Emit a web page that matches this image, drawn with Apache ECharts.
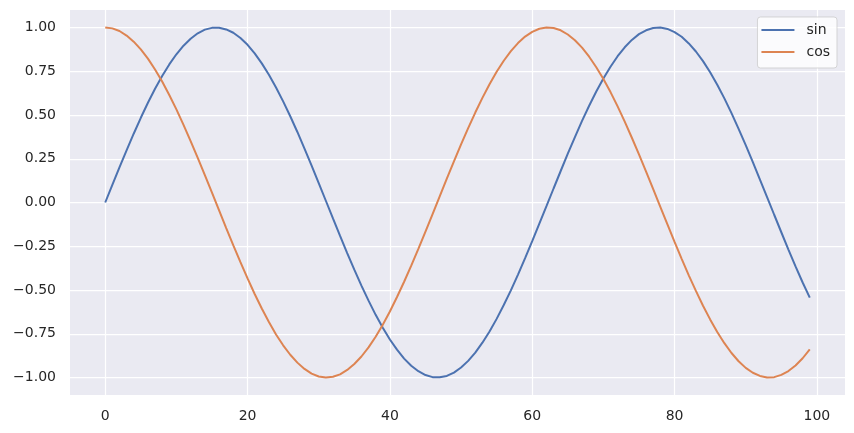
<!DOCTYPE html>
<html>
<head>
<meta charset="utf-8">
<script src="https://cdn.jsdelivr.net/npm/echarts@6/dist/echarts.min.js"></script>
<style>
html,body{margin:0;padding:0;background:#ffffff;}
#chart{width:854px;height:433px;}
</style>
</head>
<body>
<div id="chart"></div>
<script>
const xIndex = [0,1,2,3,4,5,6,7,8,9,10,11,12,13,14,15,16,17,18,19,20,21,22,23,24,25,26,27,28,29,30,31,32,33,34,35,36,37,38,39,40,41,42,43,44,45,46,47,48,49,50,51,52,53,54,55,56,57,58,59,60,61,62,63,64,65,66,67,68,69,70,71,72,73,74,75,76,77,78,79,80,81,82,83,84,85,86,87,88,89,90,91,92,93,94,95,96,97,98,99];

const sinValues = [0.000,0.101,0.201,0.298,0.393,0.484,0.570,0.650,0.723,0.789,0.847,0.896,0.936,0.967,0.988,0.998,0.999,0.989,0.970,0.940,0.901,0.852,0.795,0.730,0.657,0.578,0.493,0.403,0.308,0.211,0.111,0.010,-0.091,-0.191,-0.289,-0.384,-0.475,-0.561,-0.642,-0.716,-0.783,-0.841,-0.892,-0.933,-0.964,-0.986,-0.998,-0.999,-0.991,-0.972,-0.943,-0.905,-0.858,-0.801,-0.737,-0.665,-0.586,-0.502,-0.412,-0.318,-0.221,-0.121,-0.021,0.080,0.180,0.279,0.374,0.466,0.553,0.634,0.709,0.776,0.836,0.887,0.929,0.962,0.984,0.997,1.000,0.992,0.974,0.947,0.909,0.863,0.808,0.744,0.673,0.595,0.511,0.421,0.328,0.231,0.131,0.031,-0.070,-0.170,-0.269,-0.365,-0.457,-0.544];

const cosValues = [1.000,0.995,0.980,0.954,0.919,0.875,0.822,0.760,0.691,0.614,0.532,0.444,0.351,0.255,0.156,0.056,-0.045,-0.146,-0.245,-0.341,-0.434,-0.523,-0.606,-0.683,-0.754,-0.816,-0.870,-0.915,-0.951,-0.978,-0.994,-1.000,-0.996,-0.982,-0.957,-0.923,-0.880,-0.828,-0.767,-0.698,-0.623,-0.540,-0.453,-0.361,-0.265,-0.166,-0.066,0.035,0.136,0.235,0.332,0.425,0.514,0.598,0.676,0.747,0.810,0.865,0.911,0.948,0.975,0.993,1.000,0.997,0.984,0.960,0.927,0.885,0.833,0.773,0.706,0.631,0.549,0.462,0.370,0.275,0.176,0.076,-0.025,-0.125,-0.225,-0.322,-0.416,-0.505,-0.590,-0.668,-0.740,-0.804,-0.860,-0.907,-0.945,-0.973,-0.991,-1.000,-0.998,-0.985,-0.963,-0.931,-0.890,-0.839];

const xTicks = [0, 20, 40, 60, 80, 100];
const yTicks = [-1.00, -0.75, -0.50, -0.25, 0.00, 0.25, 0.50, 0.75, 1.00];
const seriesNames = ['sin', 'cos'];

const sinData = xIndex.map((x, i) => [x, sinValues[i]]);
const cosData = xIndex.map((x, i) => [x, cosValues[i]]);

const FONT = 'DejaVu Sans';
const TXT = '#262626';
const LINE_ICON = 'path://M0,0 L33,0 L33,2 L0,2 Z';

const chart = echarts.init(document.getElementById('chart'), null, {renderer: 'canvas'});
chart.setOption({
  backgroundColor: '#ffffff',
  animation: false,
  grid: {
    left: 70, right: 9, top: 10, bottom: 38,
    show: true, backgroundColor: '#EAEAF2', borderWidth: 0,
    containLabel: false
  },
  legend: {
    data: seriesNames.map(n => ({name: n, icon: LINE_ICON})),
    orient: 'vertical',
    right: 17, top: 17,
    padding: [6, 7, 9, 4],
    itemWidth: 33, itemHeight: 14, itemGap: 8,
    symbolKeepAspect: true,
    backgroundColor: 'rgba(255,255,255,0.8)',
    borderColor: 'rgba(204,204,204,0.8)',
    borderWidth: 1, borderRadius: 3,
    textStyle: {fontFamily: FONT, fontSize: 14, color: TXT, padding: [0, 0, 0, 7]}
  },
  xAxis: {
    type: 'value', min: -4.95, max: 103.95,
    axisLine: {show: false},
    axisTick: {show: false, customValues: xTicks},
    axisLabel: {customValues: xTicks, margin: 14, fontFamily: FONT, fontSize: 14, color: TXT,
      formatter: v => String(Math.round(v))},
    splitLine: {show: true, lineStyle: {color: '#ffffff', width: 1.25}}
  },
  yAxis: {
    type: 'value', min: -1.1, max: 1.1,
    axisLine: {show: false},
    axisTick: {show: false, customValues: yTicks},
    axisLabel: {customValues: yTicks, margin: 14, fontFamily: FONT, fontSize: 14, color: TXT,
      formatter: v => (v < 0 ? '\u2212' : '') + Math.abs(v).toFixed(2)},
    splitLine: {show: true, lineStyle: {color: '#ffffff', width: 1.25}}
  },
  series: [
    {name: seriesNames[0], type: 'line', data: sinData, symbol: 'none', showSymbol: false, smooth: false,
     lineStyle: {color: '#4C72B0', width: 2}, itemStyle: {color: '#4C72B0'}},
    {name: seriesNames[1], type: 'line', data: cosData, symbol: 'none', showSymbol: false, smooth: false,
     lineStyle: {color: '#DD8452', width: 2}, itemStyle: {color: '#DD8452'}}
  ]
});
</script>
</body>
</html>
